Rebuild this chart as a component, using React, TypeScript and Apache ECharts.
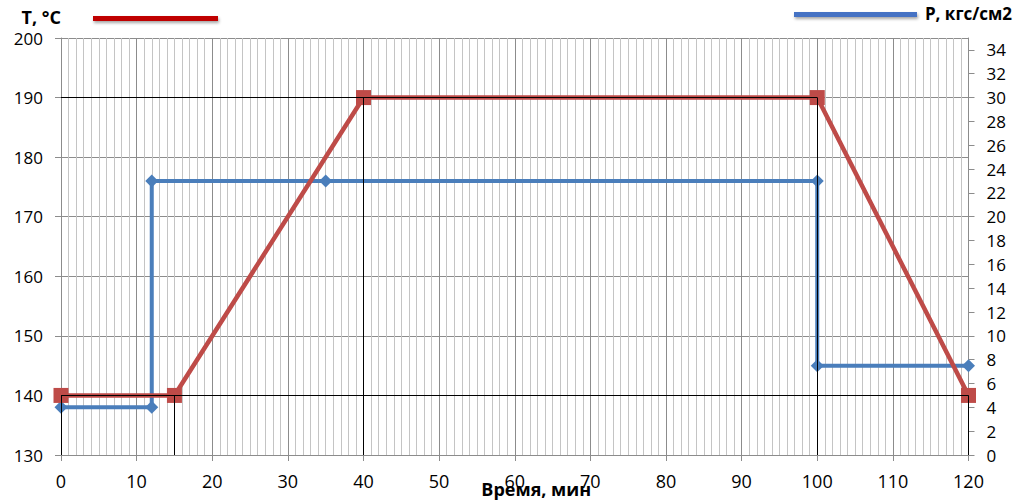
import React, { useEffect, useRef } from "react";
import * as echarts from "echarts";

const timeT = [0, 15, 40, 100, 120];
const tempT = [140, 140, 190, 190, 140];
const timeP = [0, 12, 12, 35, 100, 100, 120];
const pressP = [4, 4, 23, 23, 23, 7.5, 7.5];

const xName = "Время, мин";
const tName = "T, °C";
const pName = "P, кгс/см2";

const FONT = "'Open Sans', 'Liberation Sans', sans-serif";

export default function App() {
  const ref = useRef<HTMLDivElement>(null);
  useEffect(() => {
    if (!ref.current) return;
    const chart = echarts.init(ref.current, undefined, { renderer: "svg" });
    const tData = timeT.map((t, i) => [t, tempT[i]]);
    const pData = timeP.map((t, i) => [t, pressP[i]]);
    const dropLines: any[] = [];
    timeT.forEach((t, i) => {
      dropLines.push([{ coord: [t, 130] }, { coord: [t, tempT[i]] }]);
      if (t > 0) dropLines.push([{ coord: [0, tempT[i]] }, { coord: [t, tempT[i]] }]);
    });
    const gridGray = "#8c8c8c";
    chart.setOption({
      animation: false,
      textStyle: { fontFamily: FONT },
      grid: { left: 61, right: 55.5, top: 38, bottom: 46, containLabel: false, outerBoundsMode: "none" },
      xAxis: {
        type: "value",
        min: 0,
        max: 120,
        interval: 10,
        name: xName,
        nameLocation: "middle",
        nameGap: 25,
        nameMoveOverlap: false,
        nameTextStyle: { fontSize: 18, fontWeight: "bold", color: "#000", padding: [0, 0, 0, 43], fontFamily: FONT },
        axisLine: { show: true, lineStyle: { color: gridGray, width: 1 } },
        axisTick: { show: true, length: 6, lineStyle: { color: gridGray } },
        axisLabel: { fontSize: 18, color: "#000", margin: 17, fontFamily: FONT },
        splitLine: { show: true, lineStyle: { color: gridGray, width: 1 } },
        minorTick: { show: false, splitNumber: 10 },
        minorSplitLine: { show: true, lineStyle: { color: "#c4c4c4", width: 1 } },
      },
      yAxis: [
        {
          type: "value",
          min: 130,
          max: 200,
          interval: 10,
          name: tName,
          nameLocation: "end",
          nameGap: 12,
          nameMoveOverlap: false,
          nameTextStyle: { fontSize: 18, fontWeight: "bold", color: "#000", align: "right", fontFamily: FONT },
          axisLine: { show: true, lineStyle: { color: gridGray, width: 1 } },
          axisTick: { show: true, length: 6, lineStyle: { color: gridGray } },
          axisLabel: { fontSize: 17, color: "#000", margin: 18, fontFamily: FONT },
          splitLine: { show: true, lineStyle: { color: gridGray, width: 1 } },
        },
        {
          type: "value",
          min: 0,
          max: 35,
          interval: 2,
          position: "right",
          name: pName,
          nameLocation: "end",
          nameGap: 16,
          nameMoveOverlap: false,
          nameTextStyle: { fontSize: 17, fontWeight: "bold", color: "#000", align: "center", fontFamily: FONT },
          axisLine: { show: true, lineStyle: { color: gridGray, width: 1 } },
          axisTick: { show: true, length: 6, lineStyle: { color: gridGray } },
          axisLabel: { fontSize: 17, color: "#000", margin: 18, fontFamily: FONT, showMaxLabel: false },
          splitLine: { show: false },
        },
      ],
      graphic: {
        elements: [
          {
            type: "rect",
            left: 93,
            top: 16,
            shape: { width: 125, height: 5 },
            style: { fill: "#c00000", shadowBlur: 3, shadowOffsetX: 1, shadowOffsetY: 2, shadowColor: "rgba(0,0,0,0.35)" },
            z: 10,
          },
          {
            type: "rect",
            left: 794,
            top: 12,
            shape: { width: 123, height: 5 },
            style: { fill: "#4472c4", shadowBlur: 3, shadowOffsetX: 1, shadowOffsetY: 2, shadowColor: "rgba(0,0,0,0.35)" },
            z: 10,
          },
        ],
      },
      series: [
        {
          type: "line",
          data: [],
          yAxisIndex: 0,
          z: 1,
          silent: true,
          markLine: {
            symbol: "none",
            silent: true,
            label: { show: false },
            lineStyle: { color: "#000", width: 1, type: "solid" },
            data: dropLines,
          },
        },
        {
          type: "line",
          name: pName,
          data: pData,
          yAxisIndex: 1,
          z: 3,
          symbol: "diamond",
          symbolSize: 13,
          lineStyle: { color: "#4a7ebb", width: 4 },
          itemStyle: { color: "#4a7ebb" },
        },
        {
          type: "line",
          name: tName,
          data: tData,
          yAxisIndex: 0,
          z: 4,
          symbol: "rect",
          symbolSize: 15,
          lineStyle: { color: "#be4b48", width: 4.5 },
          itemStyle: { color: "#be4b48" },
        },
      ],
    });
    return () => chart.dispose();
  }, []);
  return (
    <div
      ref={ref}
      style={{ position: "absolute", left: 0, top: 0, width: 1024, height: 501 }}
    />
  );
}
